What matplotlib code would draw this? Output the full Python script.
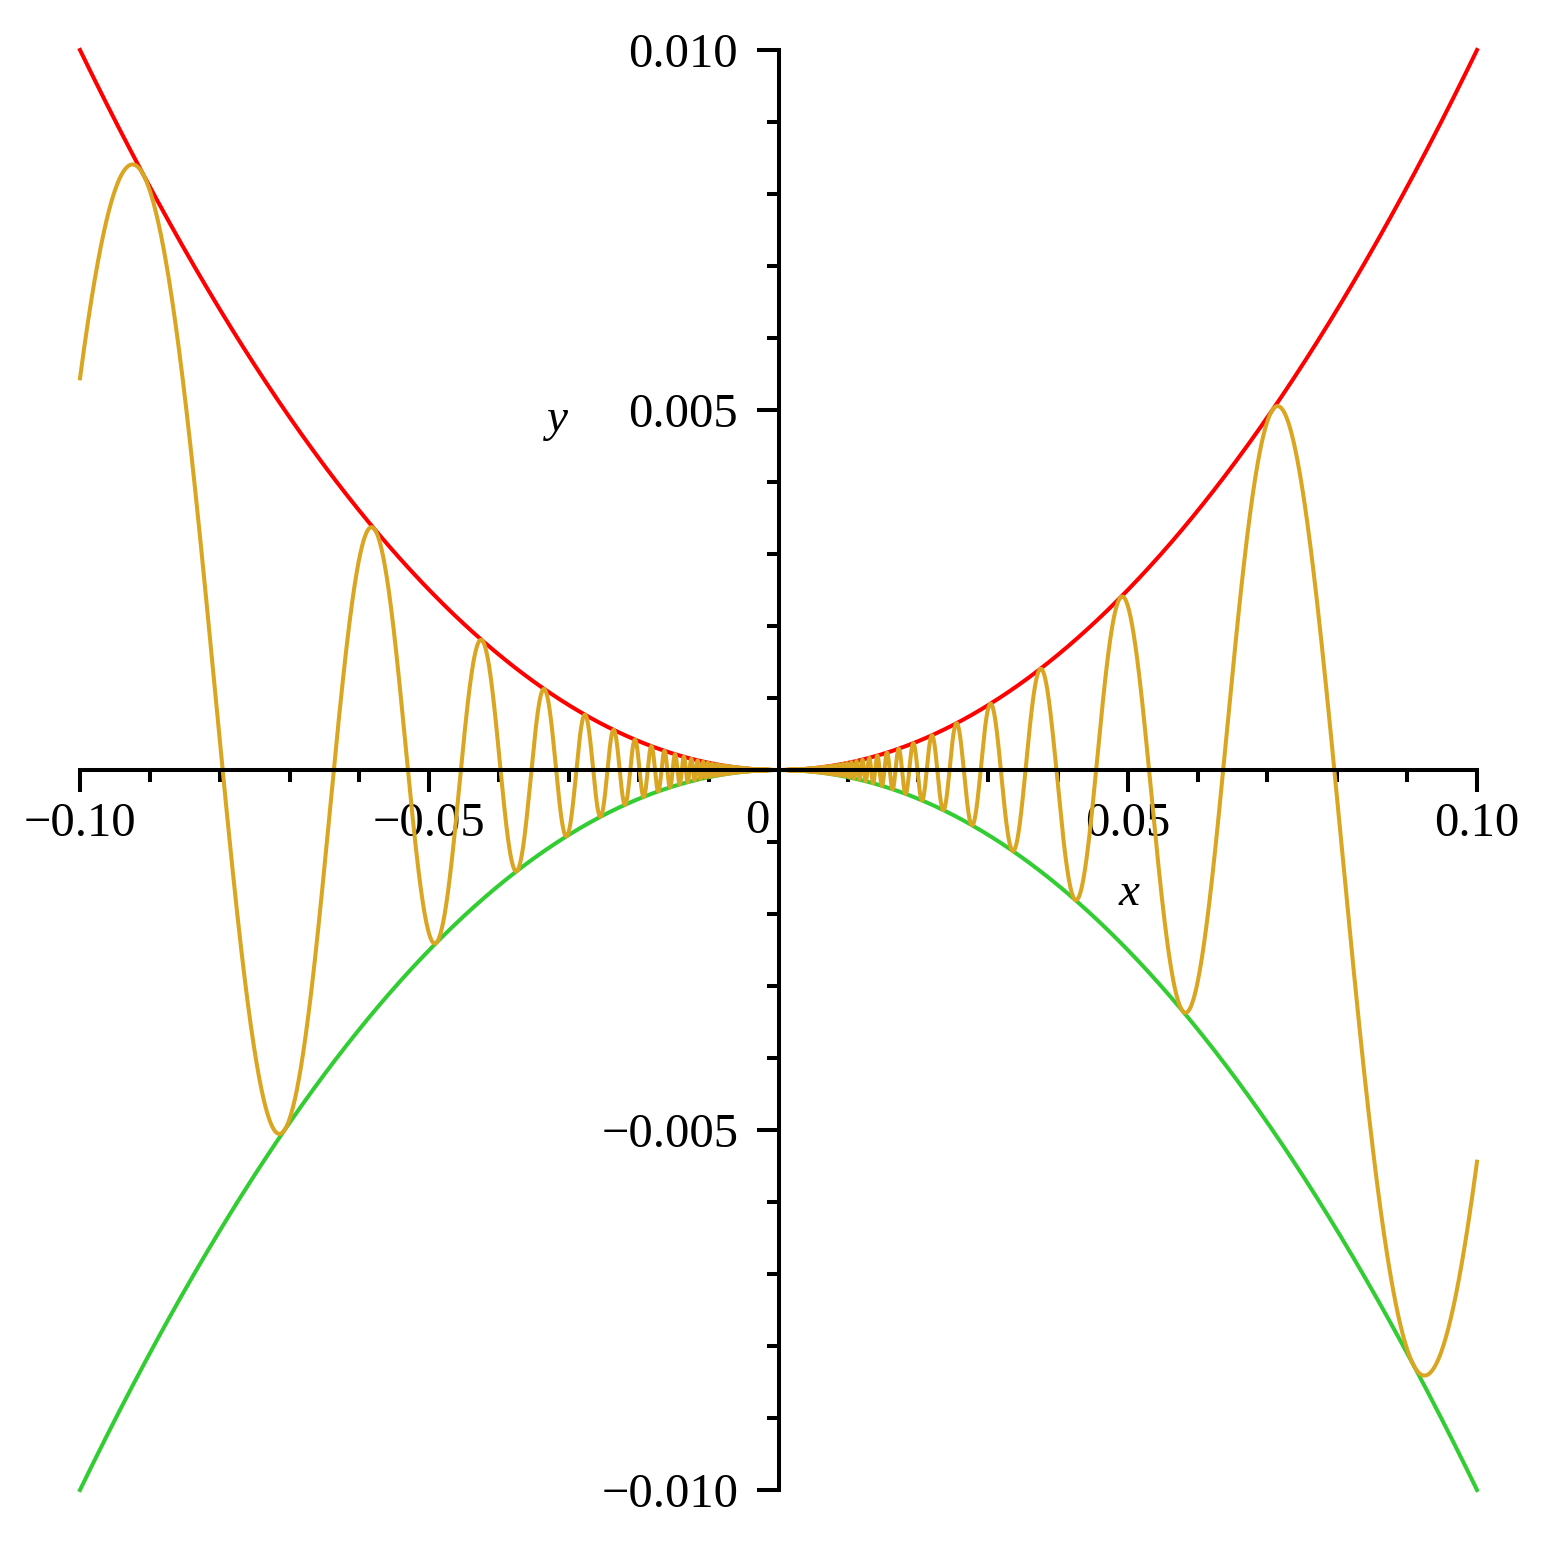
import numpy as np
import matplotlib
matplotlib.use("Agg")
import matplotlib.pyplot as plt

# Data: the chart plots y = x^2 sin(1/x) with its envelopes y = x^2 and y = -x^2
x_range = [-0.1, 0.1]
y_range = [-0.01, 0.01]
x_major = [-0.10, -0.05, 0.05, 0.10]
x_major_labels = ["\u22120.10", "\u22120.05", "0.05", "0.10"]
x_minor = [-0.09, -0.08, -0.07, -0.06, -0.04, -0.03, -0.02, -0.01,
           0.01, 0.02, 0.03, 0.04, 0.06, 0.07, 0.08, 0.09]
y_major = [-0.010, -0.005, 0.005, 0.010]
y_major_labels = ["\u22120.010", "\u22120.005", "0.005", "0.010"]
y_minor = [v / 1000 for v in range(-9, 10) if v not in (-5, 0, 5)]

x = np.linspace(x_range[0], x_range[1], 400001)
x = x[x != 0]
upper = x ** 2
lower = -x ** 2
osc = x ** 2 * np.sin(1 / x)

plt.rcParams['font.family'] = ['Liberation Serif', 'DejaVu Serif']
fig = plt.figure(figsize=(15.42, 15.42), dpi=100)
ax = fig.add_axes([80 / 1542, 1 - 1490 / 1542, (1477 - 80) / 1542, (1490 - 50) / 1542])

lw = 2.9
ax.plot(x, upper, color='#FF0000', lw=lw, clip_on=False, zorder=2)
ax.plot(x, lower, color='#32CD32', lw=lw, clip_on=False, zorder=2)
ax.plot(x, osc, color='#DAA520', lw=lw, clip_on=False, zorder=3)

ax.set_xlim(*x_range)
ax.set_ylim(*y_range)
for s in ['top', 'right']:
    ax.spines[s].set_visible(False)
ax.spines['left'].set_position(('data', 0))
ax.spines['bottom'].set_position(('data', 0))
for s in ['left', 'bottom']:
    ax.spines[s].set_linewidth(2.9)
    ax.spines[s].set_zorder(4)

ax.set_xticks(x_major)
ax.set_xticklabels(x_major_labels)
ax.set_xticks(x_minor, minor=True)
ax.set_yticks(y_major)
ax.set_yticklabels(y_major_labels)
ax.set_yticks(y_minor, minor=True)
ax.tick_params(axis='both', which='major', direction='out', length=16, width=2.9,
               labelsize=35, pad=7)
ax.tick_params(axis='both', which='minor', direction='out', length=8.6, width=2.9)
ax.tick_params(axis='y', which='major', pad=13)

ax.text(-0.0031, -0.0004, "0", fontsize=35, ha='center', va='top')
ax.text(0.0502, -0.00172, "x", fontsize=34, style='italic', ha='center', va='center')
ax.text(-0.0316, 0.00487, "y", fontsize=34, style='italic', ha='center', va='center')

fig.savefig("out.png", dpi=100)
